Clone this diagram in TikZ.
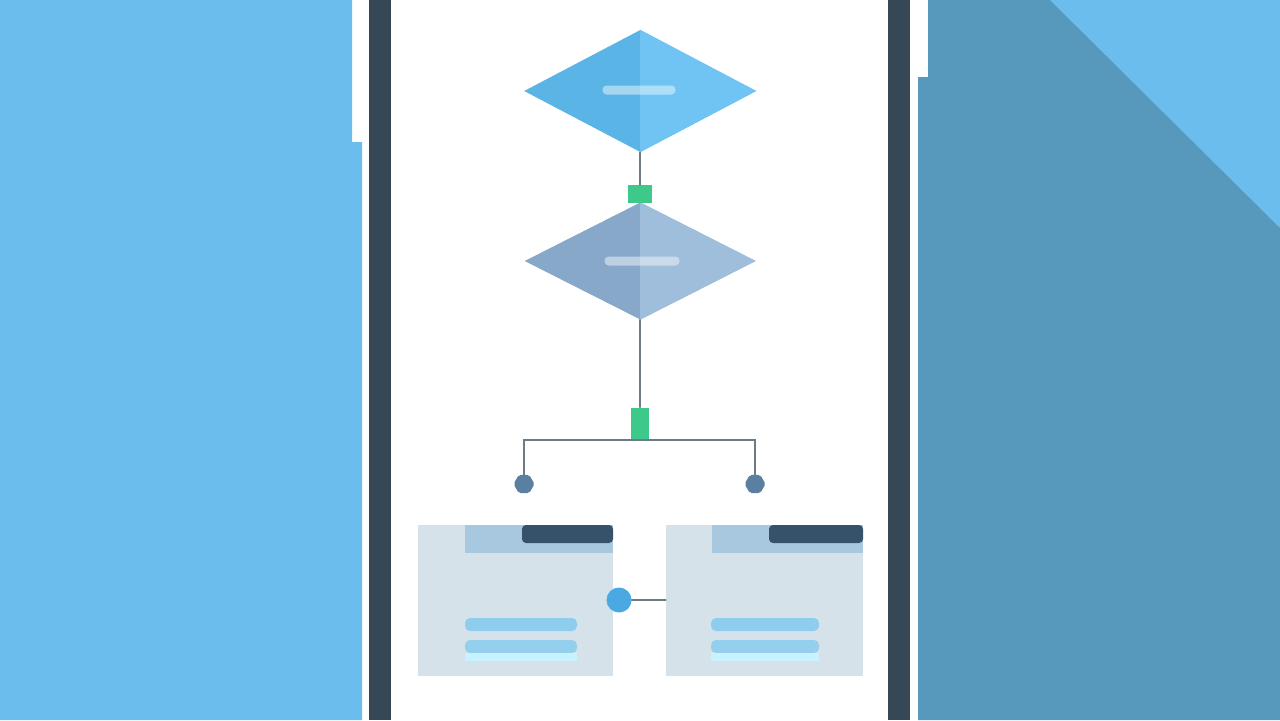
\documentclass[tikz,border=0pt]{standalone}
\usepackage{xcolor}
\definecolor{BgL}{RGB}{107,189,237}
\definecolor{BgR}{RGB}{87,152,189}
\definecolor{Frame}{RGB}{54,72,86}
\definecolor{Dia1}{RGB}{91,180,230}
\definecolor{Dia1R}{RGB}{111,196,243}
\definecolor{Dia2}{RGB}{135,168,201}
\definecolor{Dia2R}{RGB}{158,190,220}
\definecolor{Link}{RGB}{61,201,138}
\definecolor{Wire}{RGB}{109,123,132}
\definecolor{Pin}{RGB}{91,127,160}
\definecolor{Card}{RGB}{213,226,234}
\definecolor{Tab}{RGB}{168,200,224}
\definecolor{TabDark}{RGB}{53,82,106}
\definecolor{Row}{RGB}{142,205,238}
\definecolor{RowLight}{RGB}{200,242,255}
\definecolor{Dot}{RGB}{74,168,226}
\usepackage{tikz}
\usetikzlibrary{shapes}
\usetikzlibrary{shapes.geometric}
\tikzstyle{Diamond}=[diamond,draw=none,inner sep=0pt,aspect=1.9,
minimum width=4.64cm,minimum height=2.44cm]
\tikzstyle{LabelBar}=[rounded corners=0.08cm,fill=white,fill opacity=.45,
minimum width=1.46cm,minimum height=0.18cm,inner sep=0pt]
\tikzstyle{LinkBox}=[rectangle,fill=Link,inner sep=0pt]
\tikzstyle{PinNode}=[regular polygon,regular polygon sides=6,fill=Pin,
inner sep=0pt,minimum size=0.42cm,rounded corners=0.04cm]
\tikzstyle{CardBox}=[rectangle,fill=Card,inner sep=0pt,minimum height=3.02cm]
\tikzstyle{Edge}=[draw=Wire,line width=1.2pt,line cap=round]

\begin{document}
\begin{tikzpicture}[x=0.02cm,y=-0.02cm]
        \useasboundingbox(0,0)rectangle(1280,720);
        % background and phone
        \fill[white](0,0)rectangle(1280,720);
        \fill[BgL](0,0)--(352,0)--(352,142)--(362,142)--(362,720)--(0,720)--cycle;
        \fill[BgR](928,0)--(1280,0)--(1280,720)--(918,720)--(918,77)--(928,77)--cycle;
        \fill[BgL](1050,0)--(1280,0)--(1280,228)--cycle;
        \fill[Frame](369,0)rectangle(391,720);
        \fill[Frame](888,0)rectangle(910,720);
        % decisions
        \node[Diamond,fill=Dia1](d1)at(640,91){};
        \fill[Dia1R](d1.north)--(d1.east)--(d1.south)--cycle;
        \node[LabelBar](l1)at(639,90){};
        \node[Diamond,fill=Dia2,minimum width=4.62cm,minimum height=2.34cm](d2)at(640,261){};
        \fill[Dia2R](d2.north)--(d2.east)--(d2.south)--cycle;
        \node[LabelBar,minimum width=1.5cm](l2)at(642,261){};
        \node[LinkBox,minimum width=0.48cm,minimum height=0.36cm](g1)at(640,194){};
        \node[LinkBox,minimum width=0.36cm,minimum height=0.62cm](g2)at(640,423){};
        \coordinate(j)at(640,440);
        \node[PinNode](p1)at(524,484){};
        \node[PinNode](p2)at(755,484){};
        \draw[Edge](d1.south)--(g1.north);
        \draw[Edge](d2.south)--(g2.north);
        \draw[Edge](p1.north)|-(j)-|(p2.north);
        % cards
        \node[CardBox,minimum width=3.9cm](c1)at(515.5,600.5){};
        \node[CardBox,minimum width=3.94cm](c2)at(764.5,600.5){};
        \fill[Tab](465,525)rectangle(613,553);
        \fill[TabDark,rounded corners=0.08cm](522,543)--(522,525)--(613,525)--(613,543)--cycle;
        \fill[Row,rounded corners=0.1cm](465,618)rectangle(577,631);
        \fill[Row!90!Card,rounded corners=0.1cm](465,640)rectangle(577,653);
        \fill[RowLight](465,653)rectangle(577,661);
        \fill[Tab](712,525)rectangle(863,553);
        \fill[TabDark,rounded corners=0.08cm](769,543)--(769,525)--(863,525)--(863,543)--cycle;
        \fill[Row,rounded corners=0.1cm](711,618)rectangle(819,631);
        \fill[Row!90!Card,rounded corners=0.1cm](711,640)rectangle(819,653);
        \fill[RowLight](711,653)rectangle(819,661);
        \node[circle,fill=Dot,inner sep=0pt,minimum size=0.5cm](o)at(619,600){};
        \draw[Edge](o.east)--(o.east-|c2.west);
    \end{tikzpicture}
\end{document}
